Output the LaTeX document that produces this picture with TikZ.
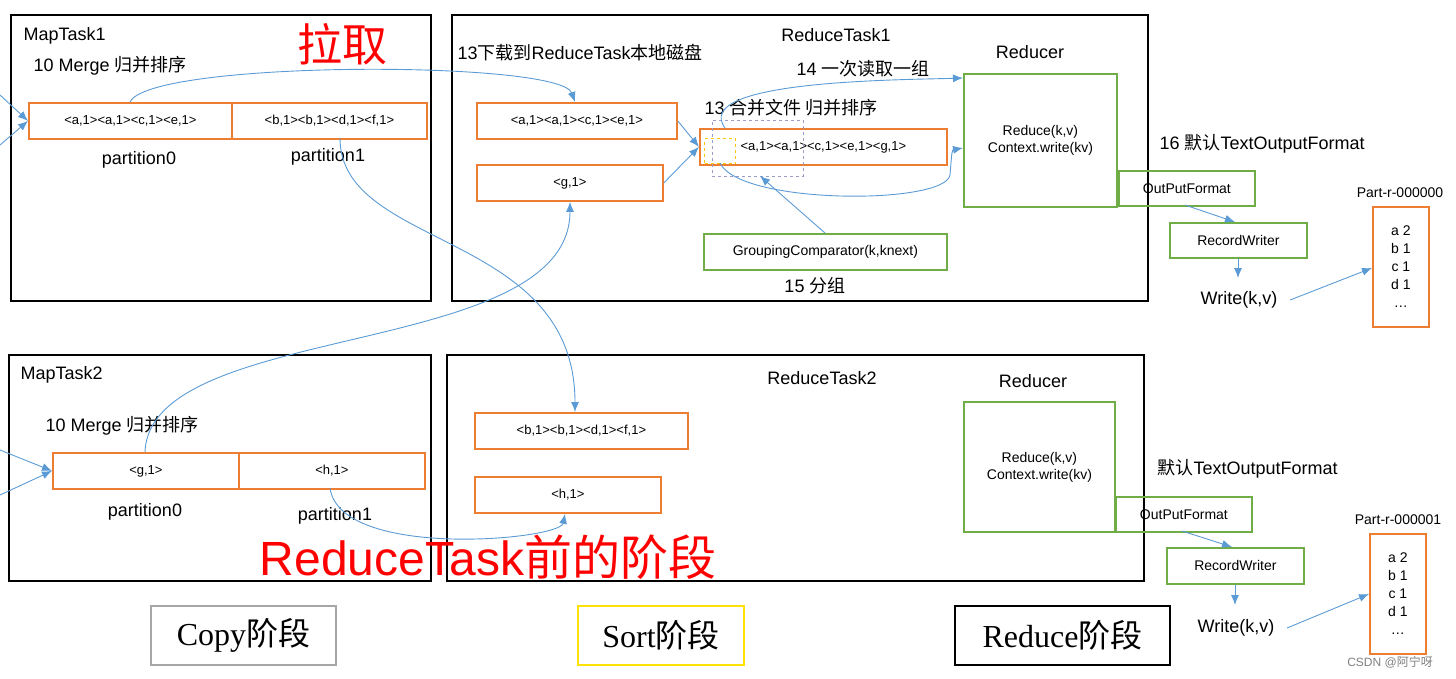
\documentclass[tikz,border=0pt]{standalone}
\usepackage{fontspec}
\setmainfont{Liberation Sans}
\newfontfamily\cjk{Noto Sans CJK SC}
\newfontfamily\serifx{Liberation Serif}
\usetikzlibrary{arrows.meta}
\definecolor{og}{HTML}{ED7D31}\definecolor{gn}{HTML}{70AD47}\definecolor{bl}{HTML}{5B9BD5}
\begin{document}
\begin{tikzpicture}[x=1pt,y=-1pt,
 blk/.style={draw=black,line width=1.5pt},
 org/.style={draw=og,fill=white,line width=1.8pt,font=\fontsize{13}{15}\selectfont},
 grn/.style={draw=gn,line width=1.8pt,font=\fontsize{14}{17}\selectfont,align=center},
 lab/.style={font=\fontsize{18}{21}\selectfont},
 ar/.style={draw=bl,line width=0.9pt,-{Latex[length=10pt,width=8pt,fill=bl]}},
 big/.style={font=\fontsize{32}{36}\selectfont,inner sep=0pt,line width=1.5pt}]
\useasboundingbox (0,0) rectangle (1456,678);
% black task boxes
\node[blk,minimum width=420,minimum height=286,anchor=north west] (mt1) at (10,14) {};
\node[blk,minimum width=696,minimum height=286,anchor=north west] (rt1) at (451,14) {};
\node[blk,minimum width=422,minimum height=226,anchor=north west] (mt2) at (8,354) {};
\node[blk,minimum width=697,minimum height=226,anchor=north west] (rt2) at (446,354) {};
% texts
\node[lab,anchor=west] (t1) at (20,36) {MapTask1};
\node[lab,anchor=west] (t2) at (30,66) {10 Merge {\cjk 归并排序}};
\node[lab] (t3) at (139,160) {partition0};
\node[lab] (t4) at (328,157) {partition1};
\node[lab,anchor=west] (t5) at (454,53) {13{\cjk 下载到}ReduceTask{\cjk 本地磁盘}};
\node[lab] (t6) at (836,35) {ReduceTask1};
\node[lab] (t7) at (1030,52) {Reducer};
\node[lab,anchor=west] (t8) at (793,69) {14 {\cjk 一次读取一组}};
\node[lab,anchor=west] (t9) at (701,108) {13 {\cjk 合并文件 归并排序}};
\node[lab,anchor=west] (t10) at (1156,144) {16 {\cjk 默认}TextOutputFormat};
\node[lab] (t11) at (815,286) {15 {\cjk 分组}};
\node[lab,anchor=west] (u1) at (17,375) {MapTask2};
\node[lab,anchor=west] (u2) at (42,426) {10 Merge {\cjk 归并排序}};
\node[lab] (u3) at (145,512) {partition0};
\node[lab] (u4) at (335,516) {partition1};
\node[lab] (u6) at (822,378) {ReduceTask2};
\node[lab] (u7) at (1033,381) {Reducer};
\node[lab,anchor=west] (u10) at (1154,469) {{\cjk 默认}TextOutputFormat};
% MT1 partitions
\node[org,minimum width=203,minimum height=36,anchor=north west] (p10) at (28,102) {<a,1><a,1><c,1><e,1>};
\node[org,minimum width=195,minimum height=36,anchor=north west] (p11) at (231,102) {<b,1><b,1><d,1><f,1>};
\node[org,minimum width=200,minimum height=36,anchor=north west] (r1a) at (476,102) {<a,1><a,1><c,1><e,1>};
\node[org,minimum width=186,minimum height=36,anchor=north west] (r1b) at (476,164) {<g,1>};
\node[org,minimum width=247,minimum height=36,anchor=north west] (r1m) at (699,128) {<a,1><a,1><c,1><e,1><g,1>};
\node[draw=gray!70!blue!60,dashed,minimum width=91,minimum height=56,anchor=north west] (dg) at (712,120) {};
\node[draw=yellow!60!orange,dashed,line width=1pt,minimum width=31,minimum height=25,anchor=north west] (dy) at (704,138) {};
\node[grn,minimum width=153,minimum height=133,anchor=north west] (red1) at (963,73) {Reduce(k,v)\\Context.write(kv)};
\node[grn,minimum width=243,minimum height=36,anchor=north west] (gc) at (703,233) {GroupingComparator(k,knext)};
\node[grn,minimum width=136,minimum height=35,anchor=north west] (of1) at (1118,170) {OutPutFormat};
\node[grn,minimum width=137,minimum height=35,anchor=north west] (rw1) at (1169,222) {RecordWriter};
\node[lab] (w1) at (1239,300) {Write(k,v)};
\node[org,minimum width=56,minimum height=120,anchor=north west,align=center,font=\fontsize{14}{18}\selectfont] (f1) at (1372,206) {a 2\\b 1\\c 1\\d 1\\…};
\node[font=\fontsize{14}{17}\selectfont] (fl1) at (1400,193) {Part-r-000000};
% second row
\node[org,minimum width=186,minimum height=36,anchor=north west] (p20) at (52,452) {<g,1>};
\node[org,minimum width=186,minimum height=36,anchor=north west] (p21) at (238,452) {<h,1>};
\node[org,minimum width=213,minimum height=36,anchor=north west] (r2a) at (474,412) {<b,1><b,1><d,1><f,1>};
\node[org,minimum width=186,minimum height=36,anchor=north west] (r2b) at (474,476) {<h,1>};
\node[grn,minimum width=151,minimum height=130,anchor=north west] (red2) at (963,401) {Reduce(k,v)\\Context.write(kv)};
\node[grn,minimum width=136,minimum height=35,anchor=north west] (of2) at (1115,496) {OutPutFormat};
\node[grn,minimum width=137,minimum height=36,anchor=north west] (rw2) at (1166,547) {RecordWriter};
\node[lab] (w2) at (1236,628) {Write(k,v)};
\node[org,minimum width=56,minimum height=120,anchor=north west,align=center,font=\fontsize{14}{18}\selectfont] (f2) at (1369,533) {a 2\\b 1\\c 1\\d 1\\…};
\node[font=\fontsize{14}{17}\selectfont] (fl2) at (1398,520) {Part-r-000001};
% bottom labels
\node[big,draw=gray!70,minimum width=185,minimum height=59] (c1) at (243.5,635.5) {{\serifx Copy}{\cjk 阶段}};
\node[big,draw=yellow!85!orange,minimum width=166,minimum height=59] (c2) at (661,635.5) {{\serifx Sort}{\cjk 阶段}};
\node[big,draw=black,minimum width=215,minimum height=59] (c3) at (1062.5,635.5) {{\serifx Reduce}{\cjk 阶段}};
\node[text=gray,font=\fontsize{12}{14}\selectfont] (cs) at (1390,662) {CSDN @{\cjk 阿宁呀}};
% coordinates
\coordinate (a1) at (0,95); \coordinate (a2) at (0,145);
\coordinate (a3) at (0,450); \coordinate (a4) at (0,495);
% arrows
\draw[ar] (a1) -- (p10.west); \draw[ar] (a2) -- (p10.west);
\draw[ar] (a3) -- (p20.west); \draw[ar] (a4) -- (p20.west);
\draw[ar] (130,102) .. controls (150,60) and (560,60) .. (r1a.north -| 575,0);
\draw[ar] (340,138) .. controls (340,250) and (575,230) .. (r2a.north -| 575,0);
\draw[ar] (145,452) .. controls (150,320) and (570,360) .. (r1b.south -| 570,0);
\draw[ar] (330,488) .. controls (340,560) and (560,540) .. (r2b.south -| 565,0);
\draw[ar] (r1a.east) -- (r1m.west); \draw[ar] (r1b.east) -- (r1m.west);
\draw[ar] (725,128) .. controls (690,80) and (900,80) .. (red1.north west |- 0,78);
\draw[ar] (720,163) .. controls (740,205) and (945,205) .. (950,175) .. controls (952,150) .. (963,148);
\draw[ar] (gc.north -| 825,0) -- (760,176);
\draw[ar] (1185,205) -- (rw1.north -| 1235,0);
\draw[ar] (rw1.south -| 1238,0) -- (1238,278);
\draw[ar] (1290,300) -- (f1.west |- 0,268);
\draw[ar] (1182,531) -- (rw2.north -| 1232,0);
\draw[ar] (rw2.south -| 1235,0) -- (1235,605);
\draw[ar] (1287,628) -- (f2.west |- 0,594);
% red texts on top
\node[text=red,font=\fontsize{45}{50}\cjk] (la) at (342,44) {拉取};
\node[text=red,font=\fontsize{48}{54}\selectfont] (lb) at (488,557) {ReduceTask{\cjk 前的阶段}};
\end{tikzpicture}
\end{document}
